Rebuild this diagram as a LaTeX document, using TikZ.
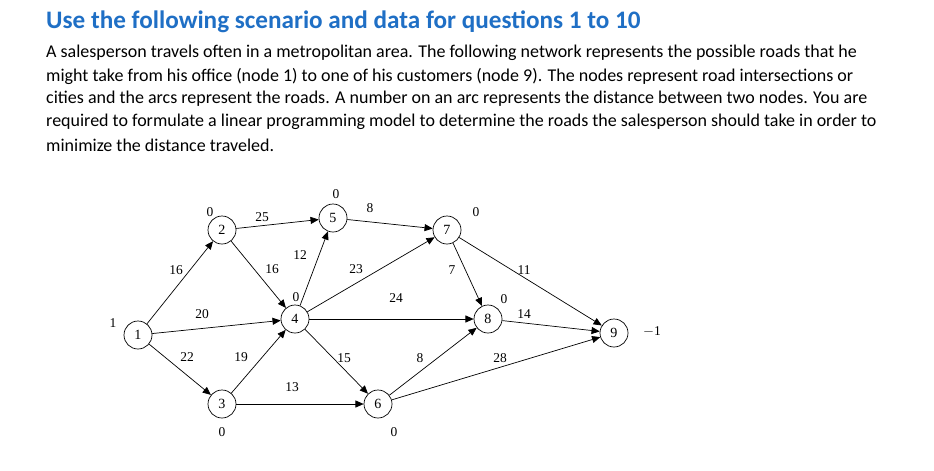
\documentclass[tikz,border=0pt]{standalone}
\usepackage{fontspec}
\setmainfont{Liberation Serif}
\newfontfamily\calfont{Carlito}
\usetikzlibrary{arrows.meta}
\definecolor{titleblue}{HTML}{1F6FC5}
\begin{document}
\begin{tikzpicture}[x=0.03cm,y=-0.03cm,
  nd/.style={circle,draw,line width=0.6pt,minimum size=0.84cm,inner sep=0pt,font=\fontsize{12}{12}\selectfont},
  lb/.style={font=\fontsize{11.5}{12}\selectfont,inner sep=0pt},
  ar/.style={-{Triangle[length=7pt,width=6pt]},line width=0.6pt},
  bt/.style={anchor=west,font=\calfont\fontsize{15.35}{16}\selectfont,inner sep=0pt}]
\path[use as bounding box] (0,0) rectangle (934,470);
\node[anchor=west,inner sep=0pt,text=titleblue,font=\calfont\bfseries\fontsize{21.5}{22}\selectfont] (title) at (46,22) {Use the following scenario and data for questions 1 to 10};
\node[bt] (l1) at (46,53) {A salesperson travels often in a metropolitan area. The following network represents the possible roads that he};
\node[bt] (l2) at (46,76) {might take from his office (node 1) to one of his customers (node 9). The nodes represent road intersections or};
\node[bt] (l3) at (46,99) {cities and the arcs represent the roads. A number on an arc represents the distance between two nodes. You are};
\node[bt] (l4) at (46,122) {required to formulate a linear programming model to determine the roads the salesperson should take in order to};
\node[bt] (l5) at (46,145) {minimize the distance traveled.};

\node[nd] (n1) at (138,335) {1};
\node[nd] (n2) at (222,230) {2};
\node[nd] (n3) at (222,404) {3};
\node[nd] (n4) at (295,319) {4};
\node[nd] (n5) at (333,218) {5};
\node[nd] (n6) at (378,404) {6};
\node[nd] (n7) at (447,230) {7};
\node[nd] (n8) at (488,319) {8};
\node[nd] (n9) at (614,333) {9};

\draw[ar] (n1) -- (n2);
\draw[ar] (n1) -- (n4);
\draw[ar] (n1) -- (n3);
\draw[ar] (n2) -- (n5);
\draw[ar] (n2) -- (n4);
\draw[ar] (n3) -- (n4);
\draw[ar] (n3) -- (n6);
\draw[ar] (n4) -- (n5);
\draw[ar] (n4) -- (n7);
\draw[ar] (n4) -- (n8);
\draw[ar] (n4) -- (n6);
\draw[ar] (n5) -- (n7);
\draw[ar] (n7) -- (n8);
\draw[ar] (n7) -- (n9);
\draw[ar] (n8) -- (n9);
\draw[ar] (n6) -- (n8);
\draw[ar] (n6) -- (n9);

\node[lb] (s1) at (113,323) {1};
\node[lb] (s9) at (652,332) {$-$1};
\node[lb] (z2) at (210,212) {0};
\node[lb] (z5) at (336,194) {0};
\node[lb] (z7) at (476,212) {0};
\node[lb] (z4) at (296,297) {0};
\node[lb] (z8) at (504,299) {0};
\node[lb] (z3) at (222,432) {0};
\node[lb] (z6) at (394,432) {0};

\node[lb] (e12) at (176,270) {16};
\node[lb] (e14) at (202,314) {20};
\node[lb] (e13) at (187,357) {22};
\node[lb] (e25) at (262,217) {25};
\node[lb] (e45) at (300,255) {12};
\node[lb] (e24) at (272,269) {16};
\node[lb] (e57) at (370,208) {8};
\node[lb] (e47) at (356,269) {23};
\node[lb] (e48) at (396,298) {24};
\node[lb] (e34) at (241,357) {19};
\node[lb] (e46) at (344,358) {15};
\node[lb] (e36) at (292,387) {13};
\node[lb] (e78) at (452,270) {7};
\node[lb] (e79) at (524,270) {11};
\node[lb] (e89) at (524,314) {14};
\node[lb] (e68) at (420,358) {8};
\node[lb] (e69) at (500,358) {28};
\end{tikzpicture}
\end{document}
